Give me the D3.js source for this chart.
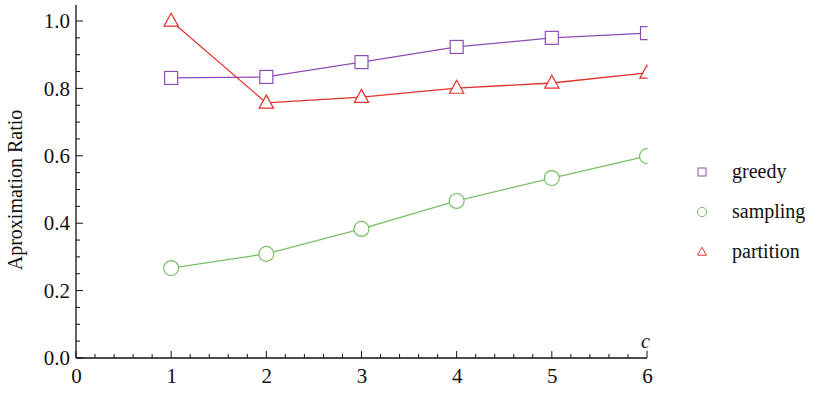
<!DOCTYPE html>
<html><head><meta charset="utf-8">
<script src="https://cdn.jsdelivr.net/npm/d3@7"></script>
<style>body{margin:0;background:#fff}svg text{font-family:"Liberation Serif","Times New Roman",Times,"DejaVu Serif",serif !important}</style>
</head><body><svg id="c" width="832" height="404"></svg>
<script>
const xs = [1,2,3,4,5,6];
const greedy = [0.831,0.834,0.878,0.923,0.950,0.964];
const sampling = [0.267,0.309,0.383,0.466,0.534,0.599];
const partition = [1.0,0.757,0.774,0.801,0.816,0.846];
const seriesNames = ["greedy","sampling","partition"];
const colors = ["#8e4cb3","#78bf64","#e0322f"];
const xTicks = [0,1,2,3,4,5,6];
const yTicks = [0,0.2,0.4,0.6,0.8,1.0];
const FONT = "Liberation Serif, Times New Roman, DejaVu Serif, serif";

const svg = d3.select("#c");
const x = d3.scaleLinear().domain([0,6]).range([76,647]);
const y = d3.scaleLinear().domain([0,1]).range([358,21]);
svg.append("defs").append("clipPath").attr("id","clip").append("rect")
  .attr("x",76).attr("y",0).attr("width",571.5).attr("height",358);

const ax = svg.append("g").attr("transform","translate(0,358)");
ax.call(d3.axisBottom(x).tickValues(xTicks).tickSize(0).tickPadding(10).tickFormat(d3.format("d")));
ax.attr("font-family",FONT);
ax.selectAll(".tick text").attr("font-size",21).attr("fill","#111");
ax.select(".domain").attr("stroke","#111").attr("stroke-width",1.3).attr("d","M76,0H647");
d3.range(0,6.01,0.2).forEach(v=>{const major=Math.abs(v-Math.round(v))<1e-6;
  ax.append("line").attr("x1",x(v)).attr("x2",x(v)).attr("y1",0).attr("y2",major?-7:-4).attr("stroke","#111");});
const ay = svg.append("g").attr("transform","translate(76,0)");
ay.call(d3.axisLeft(y).tickValues(yTicks).tickSize(0).tickPadding(6).tickFormat(d3.format(".1f")));
ay.attr("font-family",FONT);
ay.selectAll(".tick text").attr("font-size",21).attr("fill","#111");
ay.select(".domain").attr("stroke","#111").attr("stroke-width",1.3).attr("d","M0,358V5");
d3.range(0,1.001,0.05).forEach(v=>{const major=Math.abs(v*5-Math.round(v*5))<1e-6;
  ay.append("line").attr("x1",0).attr("x2",major?7:4).attr("y1",y(v)).attr("y2",y(v)).attr("stroke","#111");});
svg.append("text").attr("transform","translate(22,190) rotate(-90)").attr("text-anchor","middle")
  .attr("font-family",FONT).attr("font-size",20).attr("fill","#111").text("Aproximation Ratio");
svg.append("text").attr("x",641).attr("y",348).attr("font-family",FONT).attr("font-size",20).attr("font-style","italic").attr("fill","#111").text("c");

const data = [greedy,sampling,partition];
const g = svg.append("g").attr("clip-path","url(#clip)");
const line = d3.line().x((d,i)=>x(xs[i])).y(d=>y(d));
function marker(sel,k,s){
  if(k===0) sel.append("rect").attr("x",-s).attr("y",-s).attr("width",2*s).attr("height",2*s);
  else if(k===1) sel.append("circle").attr("r",s*1.15);
  else sel.append("path").attr("d",`M0,${-s*1.2}L${s*1.1},${s*0.8}L${-s*1.1},${s*0.8}Z`);
}
data.forEach((vals,k)=>{
  g.append("path").attr("d",line(vals)).attr("fill","none").attr("stroke",colors[k]).attr("stroke-width",1.3);
  vals.forEach((v,i)=>{
    const m=g.append("g").attr("transform",`translate(${x(xs[i])},${y(v)})`).attr("fill","#fff").attr("stroke",colors[k]).attr("stroke-width",1.2);
    marker(m,k,6.5);
  });
});
seriesNames.forEach((n,k)=>{
  const yy=172+k*40;
  const m=svg.append("g").attr("transform",`translate(702,${yy})`).attr("fill","none").attr("stroke",colors[k]).attr("stroke-width",1);
  marker(m,k,4);
  svg.append("text").attr("x",732).attr("y",yy+6).attr("font-family",FONT).attr("font-size",20).attr("fill","#111").text(n);
});
</script></body></html>
